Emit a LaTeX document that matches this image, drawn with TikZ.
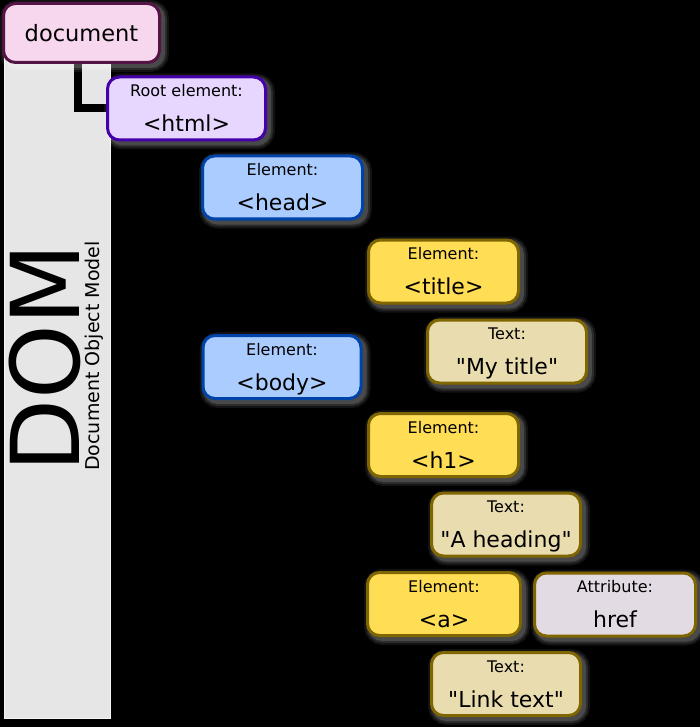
\documentclass[tikz,border=0pt]{standalone}
\usepackage{fontspec}
\setmainfont{DejaVu Sans}
\newfontfamily\boxfont{DejaVu Sans}
\usetikzlibrary{backgrounds}

\definecolor{docfill}{HTML}{F7D7EE}
\definecolor{docdraw}{HTML}{551446}
\definecolor{rootfill}{HTML}{E7D7FE}
\definecolor{rootdraw}{HTML}{4400AA}
\definecolor{headfill}{HTML}{AACCFF}
\definecolor{headdraw}{HTML}{0044AA}
\definecolor{elemfill}{HTML}{FFDD55}
\definecolor{elemdraw}{HTML}{806600}
\definecolor{textfill}{HTML}{E9DDAF}
\definecolor{attrfill}{HTML}{E3DBE3}
\definecolor{barfill}{HTML}{E6E6E6}

\tikzset{
  glow/.style={
    preaction={draw=white, line width=13pt, draw opacity=0.07, transform canvas={shift={(3pt,-3pt)}}},
    preaction={draw=white, line width=9pt, draw opacity=0.1, transform canvas={shift={(3pt,-3pt)}}},
    preaction={draw=white, line width=5pt, draw opacity=0.15, transform canvas={shift={(3pt,-3pt)}}}},
  box/.style={glow, draw, rounded corners=12pt, line width=3pt, minimum height=63pt,
    inner sep=0pt, text height=46pt, text depth=0pt, font=\boxfont\fontsize{22}{26}\selectfont},
  docbox/.style={box, fill=docfill, draw=docdraw, minimum height=59pt, text height=, text depth=,
    font=\boxfont\fontsize{22.5}{26}\selectfont},
  rootbox/.style={box, fill=rootfill, draw=rootdraw},
  headbox/.style={box, fill=headfill, draw=headdraw},
  elembox/.style={box, fill=elemfill, draw=elemdraw},
  textbox/.style={box, fill=textfill, draw=elemdraw},
  attrbox/.style={box, fill=attrfill, draw=elemdraw},
  tag/.style={anchor=base, yshift=-21pt, inner sep=0pt, font=\fontsize{16}{18}\selectfont},
  link/.style={draw=black, line width=8pt}
}

\begin{document}
\begin{tikzpicture}[x=1pt, y=-1pt]
    % Canvas and side bar
    \begin{scope}[on background layer]
    \fill[black] (0,0) rectangle (700,727);
    \draw[barfill!40!white, fill=barfill, line width=1pt] (4,10) rectangle (110,718);
    \end{scope}
    \useasboundingbox (0,0) rectangle (700,727);
    \node[rotate=90, anchor=base, inner sep=0pt, font=\fontsize{95}{95}\selectfont] (dom) at (79,358) {DOM};
    \node[rotate=90, anchor=base, inner sep=0pt, font=\fontsize{19}{19}\selectfont] (dommodel) at (99,356) {Document Object Model};

    % Tree nodes
    \node[docbox, minimum width=156pt] (doc) at (81.5,33) {document};
    \node[rootbox, minimum width=158pt, label={[tag, name=html-t]north:{Root element:}}] (html) at (186.5,108.5) {<html>};
    \node[headbox, minimum width=160pt, label={[tag, name=head-t]north:{Element:}}] (head) at (282.5,187.5) {<head>};
    \node[elembox, minimum width=150pt, label={[tag, name=title-t]north:{Element:}}] (title) at (443.5,271.5) {<title>};
    \node[textbox, minimum width=159pt, label={[tag, name=mytitle-t]north:{Text:}}] (mytitle) at (507,351.5) {"My title"};
    \node[headbox, minimum width=158pt, label={[tag, name=body-t]north:{Element:}}] (body) at (282,367) {<body>};
    \node[elembox, minimum width=150pt, label={[tag, name=h1-t]north:{Element:}}] (h1) at (443.5,445) {<h1>};
    \node[textbox, minimum width=149pt, label={[tag, name=heading-t]north:{Text:}}] (heading) at (506,524.5) {"A heading"};
    \node[elembox, minimum width=153pt, label={[tag, name=a-t]north:{Element:}}] (a) at (444,604) {<a>};
    \node[attrbox, minimum width=161pt, label={[tag, name=href-t]north:{Attribute:}}] (href) at (615,604.5) {href};
    \node[textbox, minimum width=149pt, label={[tag, name=link-t]north:{Text:}}] (link) at (506,684) {"Link text"};

    % Tree links (behind the boxes)
    \begin{scope}[on background layer]
    \draw[link] ([xshift=76pt]doc.south west) |- (html.west);
    \draw[link] ([xshift=76pt]html.south west) |- (head.west);
    \draw[link] ([xshift=76pt]html.south west) |- (body.west);
    \draw[link] ([xshift=76pt]head.south west) |- (title.west);
    \draw[link] ([xshift=40pt]title.south west) |- (mytitle.west);
    \draw[link] ([xshift=76pt]body.south west) |- (h1.west);
    \draw[link] ([xshift=76pt]body.south west) |- (a.west);
    \draw[link] ([xshift=40pt]h1.south west) |- (heading.west);
    \draw[link] ([xshift=40pt]a.south west) |- (link.west);
    \draw[link] (a) -- (href);
    \end{scope}
\end{tikzpicture}
\end{document}
